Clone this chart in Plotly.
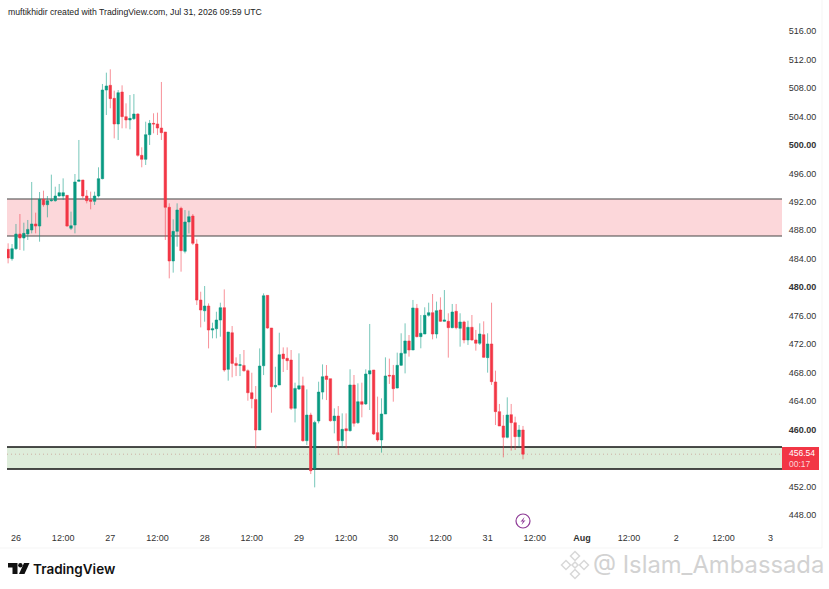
import pandas as pd
import plotly.graph_objects as go

# Velas de 1 hora
opens = [485.33, 484.01, 485.42, 487.48, 486.92, 487.48, 488.04, 488.89, 488.60, 492.35,
         491.60, 492.16, 492.16, 492.82, 492.82, 492.91, 488.28, 488.74, 494.88, 495.07,
         492.82, 492.26, 492.07, 492.82, 495.26, 507.71, 508.37, 506.54, 502.94, 507.43,
         503.97, 503.50, 503.69, 504.34, 498.53, 497.97, 501.44, 503.03, 502.94, 502.37,
         501.81, 491.23, 483.69, 487.85, 491.09, 485.05, 489.17, 490.01, 486.07, 478.20,
         476.70, 477.36, 473.99, 474.17, 475.39, 477.13, 468.46, 473.61, 469.30, 469.02,
         469.02, 468.27, 465.18, 464.24, 459.94, 468.97, 478.86, 474.27, 466.02, 466.26,
         470.61, 470.01, 469.77, 462.98, 465.70, 466.16, 458.44, 462.04, 454.55, 461.20,
         465.27, 467.52, 467.15, 461.25, 461.90, 458.44, 460.12, 459.85, 466.27, 460.97,
         463.92, 463.60, 467.81, 468.37, 459.57, 458.54, 462.19, 467.62, 467.62, 465.84,
         469.03, 470.72, 472.45, 471.18, 477.04, 473.06, 473.43, 476.05, 476.43, 473.43,
         476.80, 475.21, 475.21, 474.32, 476.62, 474.23, 475.12, 472.59, 474.37, 472.59,
         472.12, 473.34, 470.11, 472.03, 466.69, 462.52, 460.50, 458.91, 462.10, 460.97,
         459.01, 459.94]
highs = [486.17, 486.07, 488.89, 490.29, 489.07, 489.45, 494.79, 490.48, 493.38, 493.57,
         492.82, 495.82, 494.13, 494.51, 495.30, 492.91, 490.62, 495.91, 500.69, 495.07,
         493.66, 493.43, 493.43, 496.85, 508.56, 510.15, 510.62, 507.62, 507.71, 508.37,
         505.84, 507.01, 507.15, 504.44, 499.66, 503.26, 503.50, 504.44, 504.53, 508.84,
         501.81, 491.79, 489.54, 491.79, 491.32, 490.85, 490.76, 490.29, 486.73, 479.37,
         480.17, 477.73, 475.02, 476.56, 477.83, 479.70, 473.71, 474.55, 470.15, 470.61,
         471.18, 468.46, 467.99, 466.12, 471.41, 479.14, 478.86, 474.27, 468.83, 473.61,
         471.55, 471.55, 471.18, 466.59, 470.71, 467.43, 465.65, 462.37, 461.25, 466.73,
         469.16, 469.07, 467.15, 462.98, 463.31, 462.28, 462.28, 468.47, 467.67, 466.50,
         466.59, 468.47, 474.84, 468.37, 464.63, 464.39, 470.15, 469.97, 469.08, 470.81,
         473.53, 474.93, 473.29, 478.21, 477.65, 476.10, 477.18, 477.83, 479.05, 477.98,
         478.58, 479.61, 476.34, 477.65, 477.65, 476.34, 475.30, 475.30, 476.10, 474.00,
         474.93, 475.21, 473.53, 477.83, 468.28, 463.60, 462.05, 464.53, 463.60, 461.82,
         460.65, 460.51]
lows = [483.36, 483.73, 485.23, 485.23, 485.14, 486.64, 487.57, 487.57, 486.40, 491.32,
        489.82, 492.02, 492.02, 492.73, 492.26, 488.51, 488.04, 487.57, 494.83, 492.49,
        491.79, 490.95, 491.56, 492.63, 495.16, 504.20, 505.14, 500.92, 500.69, 502.33,
        502.33, 502.19, 503.50, 498.35, 496.85, 497.18, 499.99, 501.63, 501.39, 500.69,
        486.64, 481.25, 482.05, 485.70, 482.19, 484.76, 487.57, 485.93, 477.50, 474.36,
        475.16, 471.41, 472.82, 472.82, 473.05, 468.13, 466.87, 467.34, 467.52, 467.52,
        468.13, 464.06, 462.98, 457.36, 459.94, 467.66, 474.17, 462.37, 465.79, 466.26,
        468.09, 468.37, 462.75, 461.01, 465.56, 458.30, 457.83, 453.75, 451.88, 460.87,
        464.24, 464.15, 461.11, 459.47, 456.42, 457.59, 457.36, 459.71, 460.41, 460.79,
        461.72, 463.46, 462.75, 459.24, 458.30, 456.76, 462.19, 466.41, 463.92, 465.80,
        468.94, 467.90, 470.25, 471.18, 472.96, 471.42, 473.43, 475.87, 472.68, 472.82,
        475.12, 475.17, 470.11, 474.23, 474.09, 471.65, 472.12, 471.89, 472.50, 471.09,
        471.89, 470.06, 468.00, 466.27, 460.64, 460.50, 456.10, 458.77, 457.04, 457.13,
        457.60, 455.83]
closes = [484.11, 485.42, 487.48, 486.92, 487.57, 488.13, 488.89, 488.60, 492.35, 491.60,
          492.16, 492.26, 492.82, 493.29, 493.29, 488.60, 488.65, 494.79, 495.07, 492.82,
          492.16, 492.07, 492.82, 495.26, 507.71, 508.28, 506.50, 502.94, 507.34, 503.97,
          503.50, 503.73, 504.34, 498.53, 497.97, 501.44, 503.03, 502.94, 502.37, 501.72,
          491.23, 483.69, 487.85, 490.85, 485.14, 489.17, 489.92, 486.17, 478.20, 476.80,
          477.36, 473.99, 474.17, 475.39, 477.13, 468.37, 473.71, 469.30, 469.02, 469.11,
          468.27, 465.18, 464.34, 459.94, 468.93, 478.81, 474.27, 466.02, 466.21, 470.52,
          469.96, 469.68, 462.98, 465.79, 466.16, 458.44, 462.04, 454.22, 461.01, 465.27,
          467.43, 467.05, 461.25, 461.90, 458.44, 460.03, 459.84, 466.27, 460.88, 463.92,
          463.55, 467.81, 468.28, 459.38, 458.54, 462.19, 467.53, 467.53, 465.75, 469.03,
          470.72, 472.45, 471.18, 477.09, 473.06, 473.53, 476.05, 476.43, 473.43, 476.71,
          475.21, 475.40, 474.32, 476.52, 474.32, 475.12, 472.59, 474.37, 472.59, 472.12,
          473.43, 470.15, 472.03, 466.73, 462.52, 460.50, 458.91, 462.05, 460.97, 459.01,
          459.94, 456.54]

# 456 queda tapado por la etiqueta del precio
price_ticks = [448, 452, 460, 464, 468, 472, 476, 480, 484, 488, 492, 496, 500, 504, 508, 512, 516]
price_bold = [460, 480, 500]
time_ticks = ['2026-07-26 00:00', '2026-07-26 12:00', '2026-07-27 00:00', '2026-07-27 12:00',
              '2026-07-28 00:00', '2026-07-28 12:00', '2026-07-29 00:00', '2026-07-29 12:00',
              '2026-07-30 00:00', '2026-07-30 12:00', '2026-07-31 00:00', '2026-07-31 12:00',
              '2026-08-01 00:00', '2026-08-01 12:00', '2026-08-02 00:00', '2026-08-02 12:00',
              '2026-08-03 00:00']
time_labels = ['26', '12:00', '27', '12:00', '28', '12:00', '29', '12:00', '30', '12:00', '31', '12:00',
               '<b>Aug</b>', '12:00', '2', '12:00', '3']
supply_zone = [487.2, 492.4]
demand_zone = [454.47, 457.56]
last_price = 456.54

UP = '#089981'
DOWN = '#F23645'
FONT = 'Liberation Sans'

dates = pd.date_range('2026-07-25 22:00', periods=len(opens), freq='h')

# margenes del panel en pixeles de la captura
L, R, T, B = 7, 782, 20, 531

def px_x(x):
    return (x - L) / (R - L)

def px_y(y):
    return (B - y) / (B - T)

def path(points, close=True):
    d = 'M ' + ' L '.join(f'{px_x(x):.5f},{px_y(y):.5f}' for x, y in points)
    return d + (' Z' if close else '')

def hline(value, color, width, dash='solid'):
    return dict(type='line', xref='paper', x0=0, x1=1, yref='y', y0=value, y1=value,
                line=dict(color=color, width=width, dash=dash), layer='below')

fig = go.Figure(go.Candlestick(
    x=dates, open=opens, high=highs, low=lows, close=closes,
    whiskerwidth=0,
    increasing=dict(line=dict(color='rgba(8,153,129,0.55)', width=1), fillcolor=UP),
    decreasing=dict(line=dict(color='rgba(242,54,69,0.55)', width=1), fillcolor=DOWN),
    showlegend=False,
))

shapes = [
    # zonas
    dict(type='rect', xref='paper', x0=0, x1=1, yref='y', y0=supply_zone[0], y1=supply_zone[1],
         fillcolor='#FCD7DA', line=dict(width=0), layer='below'),
    hline(supply_zone[0], '#444444', 1),
    hline(supply_zone[1], '#444444', 1),
    dict(type='rect', xref='paper', x0=0, x1=1, yref='y', y0=demand_zone[0], y1=demand_zone[1],
         fillcolor='#DEEDDB', line=dict(width=0), layer='below'),
    hline(demand_zone[0], '#111111', 1.5),
    hline(demand_zone[1], '#111111', 1.5),
    hline(last_price, 'rgba(200,150,140,0.7)', 1, '1px,3px'),
    # etiqueta de precio
    dict(type='rect', xref='paper', yref='paper', x0=px_x(782), x1=px_x(819), y0=px_y(470), y1=px_y(447),
         fillcolor=DOWN, line=dict(width=0)),
    # borde tenue del lienzo
    dict(type='line', xref='paper', yref='paper', x0=px_x(0), x1=px_x(822), y0=px_y(548), y1=px_y(548),
         line=dict(color='#F5F5F5', width=1)),
    dict(type='line', xref='paper', yref='paper', x0=px_x(822), x1=px_x(822), y0=px_y(0), y1=px_y(548),
         line=dict(color='#F5F5F5', width=1)),
    # icono del rayo
    dict(type='circle', xref='paper', yref='paper', x0=px_x(516), x1=px_x(530), y0=px_y(528), y1=px_y(514),
         fillcolor='white', line=dict(color='#8E3A96', width=1.2)),
    dict(type='path', xref='paper', yref='paper', line=dict(width=0), fillcolor='#8E3A96',
         path=path([(524.5, 517), (520.5, 521.8), (523, 521.3), (521.5, 525), (525.5, 520.2), (523, 520.7)])),
    # logo de TradingView
    dict(type='path', xref='paper', yref='paper', line=dict(width=0), fillcolor='#111111',
         path=path([(8, 563), (17.5, 563), (17.5, 574), (12.5, 574), (12.5, 567.5), (8, 567.5)])),
    dict(type='circle', xref='paper', yref='paper', x0=px_x(18.2), x1=px_x(22.6), y0=px_y(567.5), y1=px_y(563),
         fillcolor='#111111', line=dict(width=0)),
    dict(type='path', xref='paper', yref='paper', line=dict(width=0), fillcolor='#111111',
         path=path([(24, 563), (29.5, 563), (24.5, 574), (19, 574)])),
]

# rombos de la marca de agua
for cx, cy, r in [(575, 556, 4.5), (566, 565, 4.5), (584, 565, 4.5), (575, 574, 4.5), (575, 565, 3)]:
    shapes.append(dict(type='path', xref='paper', yref='paper', fillcolor='rgba(255,255,255,0.6)',
                       line=dict(color='#D8D8D8', width=1.5),
                       path=path([(cx, cy - r), (cx + r, cy), (cx, cy + r), (cx - r, cy)])))

annotations = [
    dict(x=px_x(6), y=px_y(12), text='muftikhidir created with TradingView.com, Jul 31, 2026 09:59 UTC',
         font=dict(family=FONT, size=8.7, color='#222222')),
    dict(x=px_x(31), y=px_y(568.5), text='TradingView', font=dict(family='Inter', size=13.5, color='#111111', weight=600)),
    dict(x=px_x(591), y=px_y(565), text='@ Islam_Ambassada', font=dict(family='Inter', size=23.8, color='#D2D2D2')),
    dict(x=px_x(787), y=px_y(452.5), text=f'{last_price:.2f}', font=dict(family=FONT, size=8.5, color='white')),
    dict(x=px_x(787), y=px_y(464), text='00:17', font=dict(family=FONT, size=8.5, color='#FBD5D8')),
]
for a in annotations:
    a.update(xref='paper', yref='paper', xanchor='left', yanchor='middle', showarrow=False)

fig.update_layout(
    width=829, height=589,
    autosize=False,
    margin=dict(l=L, r=829 - R, t=T, b=589 - B, pad=0),
    paper_bgcolor='white', plot_bgcolor='white',
    font=dict(family=FONT, size=9, color='#333333'),
    shapes=shapes, annotations=annotations,
    showlegend=False,
    boxgap=0.1,
    xaxis=dict(
        range=['2026-07-25 21:43', '2026-08-03 02:54'],
        rangeslider=dict(visible=False),
        tickmode='array', tickvals=time_ticks, ticktext=time_labels,
        showgrid=False, zeroline=False, showline=False,
        ticks='',
    ),
    yaxis=dict(
        range=[445.75, 517.55], side='right',
        tickmode='array', tickvals=price_ticks,
        ticktext=[f'<b>{p:.2f}</b>' if p in price_bold else f'{p:.2f}' for p in price_ticks],
        showgrid=False, zeroline=False, showline=False,
        ticks='outside', ticklen=4, tickcolor='white',
    ),
)

# la pagina trae un margen de 8px en el body, se quita para que cuadre con la captura
fig.write_html('out.html', config={'displayModeBar': False}, post_script="document.body.style.margin='0';")
